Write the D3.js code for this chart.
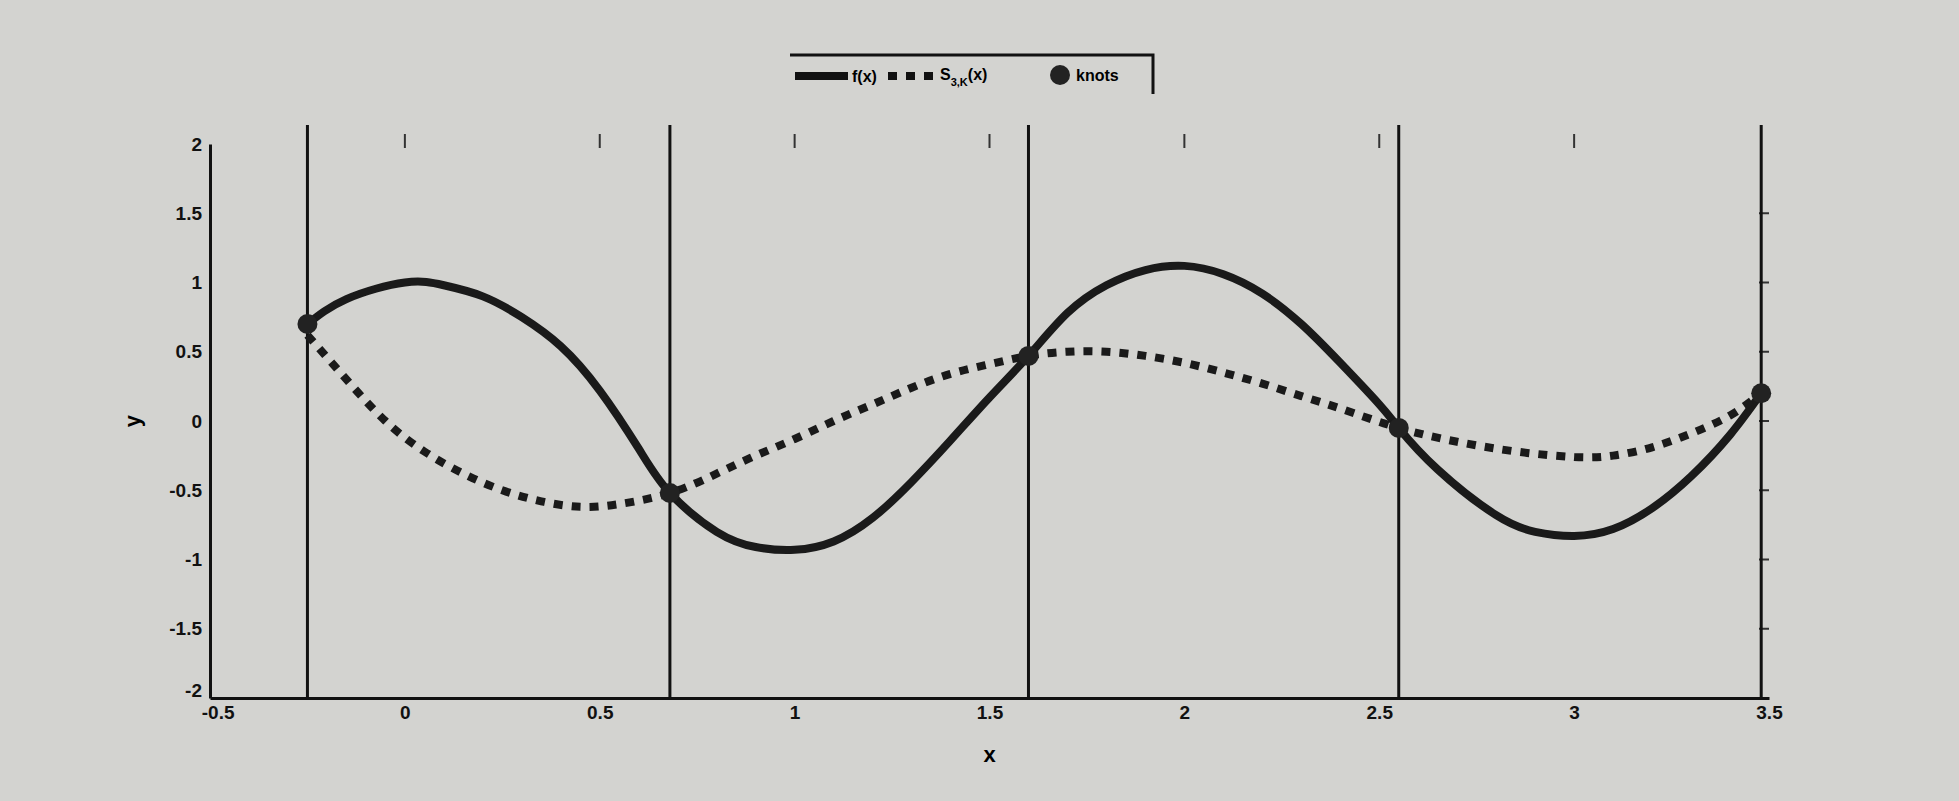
<!DOCTYPE html><html><head><script src="https://cdn.jsdelivr.net/npm/d3@7"></script>
<style>body{margin:0;background:#d3d3d0}</style></head><body><svg id="c" width="1959" height="801"></svg>
<script>
const fx=[-0.25,-0.15,0,0.1,0.2,0.3,0.4,0.5,0.6,0.68,0.8,0.9,1.0,1.1,1.2,1.3,1.4,1.5,1.6,1.7,1.8,1.9,2.0,2.1,2.2,2.3,2.4,2.5,2.55,2.65,2.8,2.9,3.0,3.1,3.2,3.3,3.4,3.48];
const fy=[0.7,0.88,1.0,0.98,0.9,0.75,0.54,0.22,-0.2,-0.52,-0.8,-0.91,-0.93,-0.87,-0.7,-0.44,-0.14,0.17,0.47,0.78,0.98,1.09,1.12,1.06,0.92,0.7,0.42,0.12,-0.05,-0.35,-0.68,-0.8,-0.83,-0.78,-0.63,-0.4,-0.1,0.2];
const sx=[-0.25,-0.15,-0.05,0.05,0.15,0.25,0.35,0.45,0.55,0.68,0.8,0.9,1.0,1.1,1.2,1.3,1.4,1.5,1.6,1.7,1.8,1.9,2.0,2.1,2.2,2.3,2.4,2.55,2.7,2.85,3.0,3.1,3.2,3.3,3.4,3.48];
const sy=[0.62,0.3,0.0,-0.22,-0.38,-0.5,-0.58,-0.62,-0.6,-0.52,-0.38,-0.25,-0.13,0.0,0.12,0.24,0.34,0.41,0.47,0.5,0.5,0.47,0.42,0.35,0.27,0.18,0.09,-0.05,-0.15,-0.22,-0.26,-0.25,-0.19,-0.09,0.04,0.2];
const knotX=[-0.25,0.68,1.6,2.55,3.48];
const knotY=[0.7,-0.52,0.47,-0.05,0.2];
const xTicks=[-0.5,0,0.5,1,1.5,2,2.5,3,3.5];
const yTicks=[-2,-1.5,-1,-0.5,0,0.5,1,1.5,2];
const svg=d3.select("#c");
const x=d3.scaleLinear().domain([-0.5,3.5]).range([210,1769]);
const y=d3.scaleLinear().domain([-2,2]).range([698,144]);
const font="'Liberation Sans',Arial,sans-serif";
const xa=svg.append("g").attr("transform","translate(0,698)").call(d3.axisBottom(x).tickValues(xTicks).tickFormat(d=>d).tickSize(0).tickPadding(8));
const ya=svg.append("g").attr("transform","translate(210,0)").call(d3.axisLeft(y).tickValues(yTicks).tickFormat(d=>d).tickSize(0).tickPadding(8));
[xa,ya].forEach(a=>{a.select(".domain").attr("stroke","#111").attr("stroke-width",3);a.selectAll("text").attr("font-family",font).attr("font-weight","bold").attr("font-size",19).attr("fill","#111");});
ya.selectAll(".tick").filter(d=>d===-2).select("text").attr("dy","-0.1em");
xa.selectAll(".tick").filter(d=>d===-0.5).select("text").attr("dx","0.4em");
svg.append("g").selectAll("line").data(yTicks.slice(1,-1)).join("line").attr("x1",x(3.5)-10).attr("x2",x(3.5)).attr("y1",d=>y(d)).attr("y2",d=>y(d)).attr("stroke","#333").attr("stroke-width",2);
svg.append("g").selectAll("line").data(xTicks.slice(1,-1)).join("line").attr("x1",d=>x(d)).attr("x2",d=>x(d)).attr("y1",y(2)-10).attr("y2",y(2)+4).attr("stroke","#333").attr("stroke-width",2);
svg.append("text").attr("x",x(1.5)).attr("y",762).attr("text-anchor","middle").attr("font-family",font).attr("font-weight","bold").attr("font-size",22).text("x");
svg.append("text").attr("transform",`translate(140,${y(0)}) rotate(-90)`).attr("text-anchor","middle").attr("font-family",font).attr("font-weight","bold").attr("font-size",22).text("y");
svg.append("g").selectAll("line").data(knotX).join("line").attr("x1",d=>x(d)).attr("x2",d=>x(d)).attr("y1",125).attr("y2",y(-2)).attr("stroke","#111").attr("stroke-width",3);
const line=d3.line().curve(d3.curveNatural).x(d=>x(d[0])).y(d=>y(d[1]));
svg.append("path").attr("d",line(fx.map((v,i)=>[v,fy[i]]))).attr("fill","none").attr("stroke","#1a1a1a").attr("stroke-width",8);
svg.append("path").attr("d",line(sx.map((v,i)=>[v,sy[i]]))).attr("fill","none").attr("stroke","#1a1a1a").attr("stroke-width",8).attr("stroke-dasharray","9,9");
svg.append("g").selectAll("circle").data(knotX).join("circle").attr("cx",d=>x(d)).attr("cy",(d,i)=>y(knotY[i])).attr("r",10).attr("fill","#222");
const L=svg.append("g");
L.append("path").attr("d","M790,55H1153V94").attr("fill","none").attr("stroke","#111").attr("stroke-width",3);
L.append("line").attr("x1",795).attr("x2",848).attr("y1",76).attr("y2",76).attr("stroke","#111").attr("stroke-width",8);
L.append("text").attr("x",852).attr("y",82).attr("font-family",font).attr("font-weight","bold").attr("font-size",16).text("f(x)");
L.append("line").attr("x1",888).attr("x2",936).attr("y1",76).attr("y2",76).attr("stroke","#111").attr("stroke-width",8).attr("stroke-dasharray","9,9");
const t=L.append("text").attr("x",940).attr("y",80).attr("font-family",font).attr("font-weight","bold").attr("font-size",16);
t.append("tspan").text("S");t.append("tspan").attr("dy",6).attr("font-size",11).text("3,K");t.append("tspan").attr("dy",-6).text("(x)");
L.append("circle").attr("cx",1060).attr("cy",75).attr("r",10).attr("fill","#222");
L.append("text").attr("x",1076).attr("y",81).attr("font-family",font).attr("font-weight","bold").attr("font-size",16).text("knots");
</script></body></html>
